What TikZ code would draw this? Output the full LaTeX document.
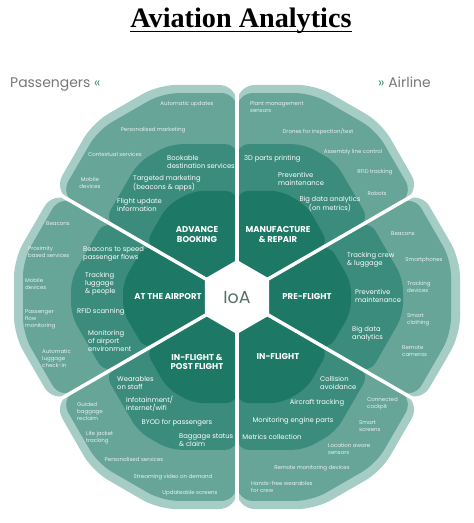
\documentclass[tikz,border=0pt]{standalone}
\usepackage{fontspec}
\setmainfont{Poppins}
\newfontfamily\titlefont{Liberation Serif}
\definecolor{cLight}{RGB}{166,205,197}
\definecolor{cMain}{RGB}{102,165,152}
\definecolor{cMid}{RGB}{60,140,125}
\definecolor{cCore}{RGB}{30,120,102}
\definecolor{cIoA}{RGB}{88,112,106}
\definecolor{cGray}{RGB}{120,120,120}
\definecolor{cTeal}{RGB}{74,150,138}
\begin{document}
\begin{tikzpicture}[x=1bp,y=-1bp,
  outer/.style={text=white, text opacity=0.85, font=\fontsize{5.5}{7}\selectfont, align=left, inner sep=0},
  mid/.style={text=white, font=\fontsize{6.8}{7.9}\selectfont, align=left, inner sep=0},
  core/.style={text=white, font=\fontsize{8.5}{10}\selectfont\bfseries, align=center, inner sep=0}]
\useasboundingbox (0,0) rectangle (474,523);
\fill[white] (0,0) rectangle (474,523);
% petals
\foreach \a in {0,60,120,180,240,300}{
  \begin{scope}[shift={(237,297)}, rotate=\a]
    \fill[cLight, rounded corners=18] (0,0) -- (-30:212) -- (223,-38) -- (223,38) -- (30:212) -- cycle;
    \fill[cMain, rounded corners=16] (0,0) -- (-30:204) -- (214,-37) -- (214,37) -- (30:204) -- cycle;
    \fill[cMid, rounded corners=12] (0,0) -- (-30:153) -- (166,-18) -- (166,18) -- (30:153) -- cycle;
    \fill[cCore, rounded corners=11] (0,0) -- (-30:106) -- (114,-15) -- (114,15) -- (30:106) -- cycle;
  \end{scope}
}
% separators
\foreach \a in {30,90,150,210,270,330}{
  \draw[white, line width=3.5] (237,297) -- ++(\a:240);
}
% centre hexagon
\fill[white, rounded corners=2] (237,297) +(30:37) -- +(90:37) -- +(150:37) -- +(210:37) -- +(270:37) -- +(330:37) -- cycle;
\node[text=cIoA, font=\fontsize{17.5}{19}\selectfont] (ioa) at (237,298) {IoA};
% title and side labels
\node[font=\titlefont\bfseries\fontsize{28.3}{30}\selectfont, anchor=base, inner sep=0] (title) at (241,28) {Aviation Analytics};
\draw[line width=1.4] ([yshift=-3.5bp]title.base west) -- ([yshift=-3.5bp]title.base east);
\node[anchor=base west, text=cGray, font=\fontsize{14}{16}\selectfont, inner sep=0] (pass) at (10,88) {Passengers \textcolor{cTeal}{«}};
\node[anchor=base east, text=cGray, font=\fontsize{14}{16}\selectfont, inner sep=0] (air) at (431,88) {\textcolor{cTeal}{»} Airline};
% Advance booking
\node[outer] (o1) at (187,104) {Automatic updates};
\node[outer] (o2) at (153,130) {Personalised marketing};
\node[outer] (o3) at (115,154) {Contextual services};
\node[outer, align=center] (o4) at (90,183) {Mobile\\devices};
\node[mid, anchor=west] (m1) at (167,162) {Bookable\\destination services};
\node[mid, anchor=west] (m2) at (133,183) {Targeted marketing\\(beacons \& apps)};
\node[mid, anchor=west] (m3) at (117,205) {Flight update\\information};
\node[core] (c1) at (197,235) {ADVANCE\\BOOKING};
% Manufacture
\node[outer, anchor=west] (o5) at (250,107) {Plant management\\sensors};
\node[outer] (o6) at (318,132) {Drones for inspection/test};
\node[outer] (o7) at (353,152) {Assembly line control};
\node[outer] (o8) at (375,172) {RFID tracking};
\node[outer] (o9) at (377,193) {Robots};
\node[mid, anchor=west] (m4) at (244,159) {3D parts printing};
\node[mid, anchor=west] (m5) at (278,179) {Preventive\\maintenance};
\node[mid, align=center] (m6) at (330,204) {Big data analytics\\(on metrics)};
\node[core] (c2) at (278,235) {MANUFACTURE\\\& REPAIR};
% At the airport
\node[outer] (o10) at (58,224) {Beacons};
\node[outer, anchor=west] (o11) at (28,252) {Proximity\\based services};
\node[outer, anchor=west] (o12) at (25,284) {Mobile\\devices};
\node[outer, anchor=west] (o13) at (25,319) {Passenger\\flow\\monitoring};
\node[outer, anchor=west] (o14) at (42,358) {Automatic\\luggage\\check-in};
\node[mid, anchor=west] (m7) at (83,254) {Beacons to speed\\passenger flows};
\node[mid, anchor=west] (m8) at (85,284) {Tracking\\luggage\\\& people};
\node[mid, anchor=west] (m9) at (77,312) {RFID scanning};
\node[mid, anchor=west] (m10) at (88,341) {Monitoring\\of airport\\environment};
\node[core] (c3) at (168,297) {AT THE AIRPORT};
% Pre-flight
\node[outer] (o15) at (403,234) {Beacons};
\node[outer] (o16) at (424,260) {Smartphones};
\node[outer, anchor=west] (o17) at (407,287) {Tracking\\devices};
\node[outer, anchor=west] (o18) at (407,320) {Smart\\clothing};
\node[outer, anchor=west] (o19) at (402,351) {Remote\\cameras};
\node[mid, anchor=west] (m11) at (347,260) {Tracking crew\\\& luggage};
\node[mid, anchor=west] (m12) at (355,296) {Preventive\\maintenance};
\node[mid, anchor=west] (m13) at (352,334) {Big data\\analytics};
\node[core] (c4) at (307,297) {PRE-FLIGHT};
% In-flight & post flight
\node[core] (c5) at (197,362) {IN-FLIGHT \&\\POST FLIGHT};
\node[mid, anchor=west] (m14) at (117,383) {Wearables\\on staff};
\node[mid, anchor=west] (m15) at (126,404) {Infotainment/\\internet/wifi};
\node[mid] (m16) at (177,423) {BYOD for passengers};
\node[mid, anchor=west] (m17) at (179,440) {Baggage status\\\& claim};
\node[outer, anchor=west] (o20) at (77,411) {Guided\\baggage\\reclaim};
\node[outer, anchor=west] (o21) at (86,438) {Life jacket\\tracking};
\node[outer] (o22) at (134,459) {Personalised services};
\node[outer] (o23) at (173,477) {Streaming video on demand};
\node[outer] (o24) at (190,493) {Updateable screens};
% In-flight
\node[core] (c6) at (278,357) {IN-FLIGHT};
\node[mid, anchor=west] (m18) at (320,383) {Collision\\avoidance};
\node[mid] (m19) at (317,403) {Aircraft tracking};
\node[mid] (m20) at (293,421) {Monitoring engine parts};
\node[mid] (m21) at (272,437) {Metrics collection};
\node[outer, anchor=west] (o25) at (367,404) {Connected\\cockpit};
\node[outer, anchor=west] (o26) at (359,426) {Smart\\screens};
\node[outer, anchor=west] (o27) at (328,449) {Location aware\\sensors};
\node[outer] (o28) at (312,468) {Remote monitoring devices};
\node[outer, anchor=west] (o29) at (251,487) {Hands-free wearables\\for crew};
\end{tikzpicture}
\end{document}
